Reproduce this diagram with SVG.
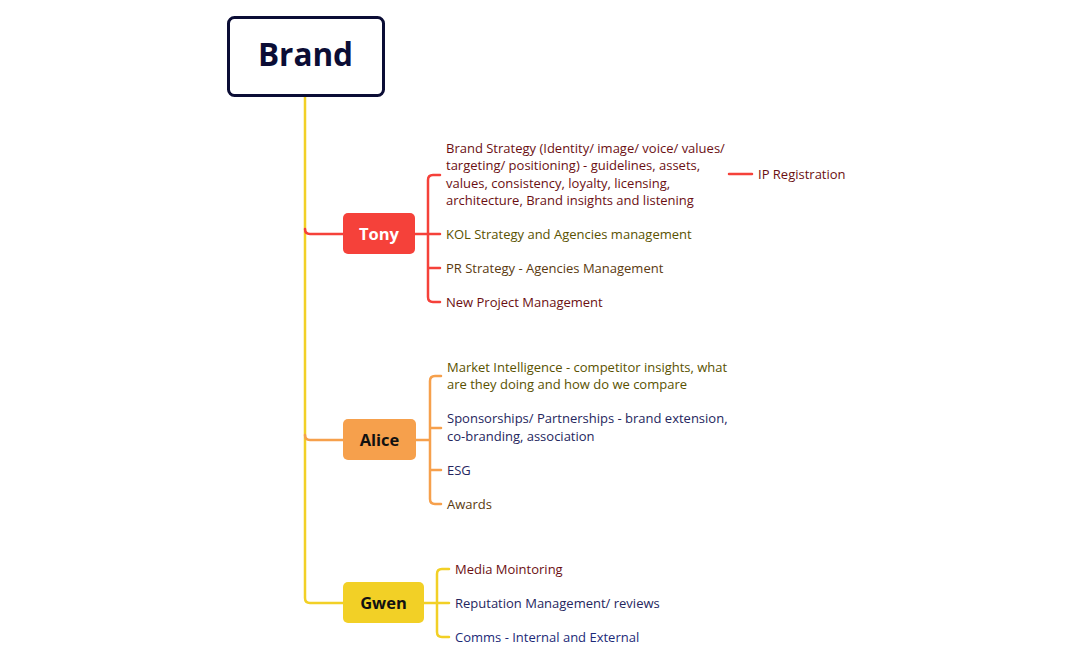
<svg xmlns="http://www.w3.org/2000/svg" width="1079" height="668" viewBox="0 0 1079 668">
<style>
.t{font-family:"Open Sans","DejaVu Sans",sans-serif;font-size:13px}
.n{font-family:"Open Sans","DejaVu Sans",sans-serif;font-size:16.5px;font-weight:bold;text-anchor:middle}
.c{fill:none;stroke-width:2.5;stroke-linecap:round;stroke-linejoin:round}
.red{stroke:#f5413a}.org{stroke:#f6a04c}.yel{stroke:#f2d026}
.dr{fill:#6b0f12}.ol{fill:#5a5200}.br{fill:#5b3a0f}.nv{fill:#25265e}.bl{fill:#1c2a78}
</style>
<rect width="1079" height="668" fill="#ffffff"/>
<g id="connectors">
<path class="c yel" d="M305,96 V598 Q305,603 310,603 H343" stroke-width="3"/>
<path class="c red" d="M305,229 Q305,234 310,234 H343"/>
<path class="c org" d="M305,435 Q305,440 310,440 H343"/>
<path class="c red" d="M415,234 H440 M440,175 H433 Q428,175 428,180 V297 Q428,302 433,302 H440 M428,268 H440"/>
<path class="c red" d="M729,174 H752"/>
<path class="c org" d="M416,440 H430 M441,376 H435 Q430,376 430,381 V499 Q430,504 435,504 H441 M430,428 H441 M430,470 H441"/>
<path class="c yel" d="M424,603 H449 M449,569 H442 Q437,569 437,574 V632 Q437,637 442,637 H449"/>
</g>
<g id="brand">
<rect x="228.5" y="17.5" width="155" height="78" rx="6" fill="#ffffff" stroke="#0b0d35" stroke-width="3"/>
<text x="305.5" y="66" font-family="'Open Sans','DejaVu Sans',sans-serif" font-size="31.5" font-weight="bold" fill="#0b0d35" text-anchor="middle">Brand</text>
</g>
<g id="tony">
<rect x="343" y="213" width="72" height="41" rx="5" fill="#f5413a"/>
<text class="n" x="379" y="240" fill="#ffffff">Tony</text>
</g>
<g id="alice">
<rect x="343" y="419" width="73" height="41" rx="5" fill="#f6a04c"/>
<text class="n" x="379.5" y="446" fill="#111111">Alice</text>
</g>
<g id="gwen">
<rect x="343" y="582" width="81" height="41" rx="5" fill="#f2d026"/>
<text class="n" x="383.5" y="609" fill="#111111">Gwen</text>
</g>
<g id="t-brandstrategy">
<text class="t dr" x="446" y="152.5">Brand Strategy (Identity/ image/ voice/ values/</text>
<text class="t dr" x="446" y="170">targeting/ positioning) - guidelines, assets,</text>
<text class="t dr" x="446" y="187.5">values, consistency, loyalty, licensing,</text>
<text class="t dr" x="446" y="205">architecture, Brand insights and listening</text>
</g>
<g id="t-ip"><text class="t dr" x="758" y="178.5">IP Registration</text></g>
<g id="t-kol"><text class="t ol" x="446" y="238.5">KOL Strategy and Agencies management</text></g>
<g id="t-pr"><text class="t br" x="446" y="272.5">PR Strategy - Agencies Management</text></g>
<g id="t-npm"><text class="t dr" x="446" y="306.5">New Project Management</text></g>
<g id="t-mi">
<text class="t ol" x="447" y="371.5">Market Intelligence - competitor insights, what</text>
<text class="t ol" x="447" y="389">are they doing and how do we compare</text>
</g>
<g id="t-sp">
<text class="t nv" x="447" y="423">Sponsorships/ Partnerships - brand extension,</text>
<text class="t nv" x="447" y="440.5">co-branding, association</text>
</g>
<g id="t-esg"><text class="t nv" x="447" y="474.5">ESG</text></g>
<g id="t-awards"><text class="t br" x="447" y="508.5">Awards</text></g>
<g id="t-media"><text class="t dr" x="455" y="573.5">Media Mointoring</text></g>
<g id="t-rep"><text class="t nv" x="455" y="607.5">Reputation Management/ reviews</text></g>
<g id="t-comms"><text class="t bl" x="455" y="641.5">Comms - Internal and External</text></g>
</svg>
